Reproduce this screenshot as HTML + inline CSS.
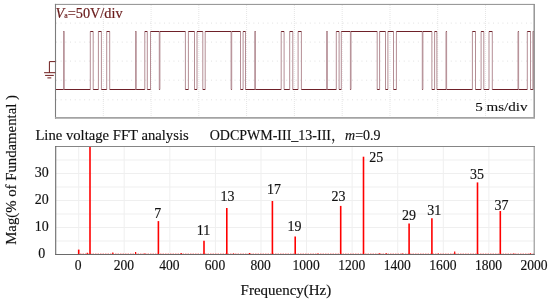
<!DOCTYPE html>
<html><head><meta charset="utf-8"><style>
html,body{margin:0;padding:0;background:#fff;width:550px;height:304px;overflow:hidden}
svg{display:block}
</style></head><body>
<svg width="550" height="304" viewBox="0 0 550 304"><line x1="103.3" y1="5" x2="103.3" y2="117" stroke="#d6d6d6" stroke-width="0.8" stroke-dasharray="0.8 1.2"/>
<line x1="151.1" y1="5" x2="151.1" y2="117" stroke="#d6d6d6" stroke-width="0.8" stroke-dasharray="0.8 1.2"/>
<line x1="198.8" y1="5" x2="198.8" y2="117" stroke="#d6d6d6" stroke-width="0.8" stroke-dasharray="0.8 1.2"/>
<line x1="246.6" y1="5" x2="246.6" y2="117" stroke="#d6d6d6" stroke-width="0.8" stroke-dasharray="0.8 1.2"/>
<line x1="294.4" y1="5" x2="294.4" y2="117" stroke="#d6d6d6" stroke-width="0.8" stroke-dasharray="0.8 1.2"/>
<line x1="342.2" y1="5" x2="342.2" y2="117" stroke="#d6d6d6" stroke-width="0.8" stroke-dasharray="0.8 1.2"/>
<line x1="390.0" y1="5" x2="390.0" y2="117" stroke="#d6d6d6" stroke-width="0.8" stroke-dasharray="0.8 1.2"/>
<line x1="437.7" y1="5" x2="437.7" y2="117" stroke="#d6d6d6" stroke-width="0.8" stroke-dasharray="0.8 1.2"/>
<line x1="485.5" y1="5" x2="485.5" y2="117" stroke="#d6d6d6" stroke-width="0.8" stroke-dasharray="0.8 1.2"/>
<line x1="56" y1="23.1" x2="533" y2="23.1" stroke="#d6d6d6" stroke-width="0.8" stroke-dasharray="0.9 3.8"/>
<line x1="56" y1="42.1" x2="533" y2="42.1" stroke="#d6d6d6" stroke-width="0.8" stroke-dasharray="0.9 3.8"/>
<line x1="56" y1="61.1" x2="533" y2="61.1" stroke="#d6d6d6" stroke-width="0.8" stroke-dasharray="0.9 3.8"/>
<line x1="56" y1="80.2" x2="533" y2="80.2" stroke="#d6d6d6" stroke-width="0.8" stroke-dasharray="0.9 3.8"/>
<line x1="56" y1="99.8" x2="533" y2="99.8" stroke="#d6d6d6" stroke-width="0.8" stroke-dasharray="0.9 3.8"/>
<path d="M63.6,89.5V31.5M64.2,31.5V89.5M90.3,89.5V31.5M93.2,31.5V89.5M98.4,89.5V31.5M101.4,31.5V89.5M106.7,89.5V31.5M109.7,31.5V89.5M135.6,89.5V31.5M136.2,31.5V89.5M144.8,89.5V31.5M147.3,31.5V89.5M150.5,89.5V31.5M159.3,31.5V89.5M159.9,89.5V31.5M185.4,31.5V89.5M188.4,89.5V31.5M194.5,31.5V89.5M197.0,89.5V31.5M202.8,31.5V89.5M205.2,89.5V31.5M231.1,31.5V89.5M231.7,89.5V31.5M240.5,31.5V89.5M243.1,89.5V31.5M245.5,31.5V89.5M254.8,89.5V31.5M255.4,31.5V89.5M281.2,89.5V31.5M284.1,31.5V89.5M289.7,89.5V31.5M292.8,31.5V89.5M298.1,89.5V31.5M301.4,31.5V89.5M326.7,89.5V31.5M327.3,31.5V89.5M336.3,89.5V31.5M339.1,31.5V89.5M341.3,89.5V31.5M350.4,31.5V89.5M351.0,89.5V31.5M377.2,31.5V89.5M379.6,89.5V31.5M385.5,31.5V89.5M387.9,89.5V31.5M393.5,31.5V89.5M396.4,89.5V31.5M422.3,31.5V89.5M422.9,89.5V31.5M431.9,31.5V89.5M434.6,89.5V31.5M436.9,31.5V89.5M446.0,89.5V31.5M446.6,31.5V89.5M472.4,89.5V31.5M475.5,31.5V89.5M481.1,89.5V31.5M483.8,31.5V89.5M489.0,89.5V31.5M492.3,31.5V89.5M518.0,89.5V31.5M518.6,31.5V89.5M527.3,89.5V31.5M530.5,31.5V89.5M532.9,89.5V31.5M533.6,31.5V89.5" fill="none" stroke="#b48e95" stroke-width="1"/>
<path d="M55.8,89.5H63.6M63.6,31.5H64.2M64.2,89.5H90.3M90.3,31.5H93.2M93.2,89.5H98.4M98.4,31.5H101.4M101.4,89.5H106.7M106.7,31.5H109.7M109.7,89.5H135.6M135.6,31.5H136.2M136.2,89.5H144.8M144.8,31.5H147.3M147.3,89.5H150.5M150.5,31.5H159.3M159.3,89.5H159.9M159.9,31.5H185.4M185.4,89.5H188.4M188.4,31.5H194.5M194.5,89.5H197.0M197.0,31.5H202.8M202.8,89.5H205.2M205.2,31.5H231.1M231.1,89.5H231.7M231.7,31.5H240.5M240.5,89.5H243.1M243.1,31.5H245.5M245.5,89.5H254.8M254.8,31.5H255.4M255.4,89.5H281.2M281.2,31.5H284.1M284.1,89.5H289.7M289.7,31.5H292.8M292.8,89.5H298.1M298.1,31.5H301.4M301.4,89.5H326.7M326.7,31.5H327.3M327.3,89.5H336.3M336.3,31.5H339.1M339.1,89.5H341.3M341.3,31.5H350.4M350.4,89.5H351.0M351.0,31.5H377.2M377.2,89.5H379.6M379.6,31.5H385.5M385.5,89.5H387.9M387.9,31.5H393.5M393.5,89.5H396.4M396.4,31.5H422.3M422.3,89.5H422.9M422.9,31.5H431.9M431.9,89.5H434.6M434.6,31.5H436.9M436.9,89.5H446.0M446.0,31.5H446.6M446.6,89.5H472.4M472.4,31.5H475.5M475.5,89.5H481.1M481.1,31.5H483.8M483.8,89.5H489.0M489.0,31.5H492.3M492.3,89.5H518.0M518.0,31.5H518.6M518.6,89.5H527.3M527.3,31.5H530.5M530.5,89.5H532.9M532.9,31.5H533.6M533.6,89.5H533.8" fill="none" stroke="#6e2028" stroke-width="1"/>
<line x1="54.9" y1="4.4" x2="534.6" y2="4.4" stroke="#8e8e8e" stroke-width="1"/>
<line x1="55.5" y1="3.9" x2="55.5" y2="118.8" stroke="#7c7c7c" stroke-width="1.1"/>
<line x1="534.2" y1="3.9" x2="534.2" y2="118.3" stroke="#8e8e8e" stroke-width="1.4"/>
<line x1="55" y1="117.9" x2="535" y2="117.9" stroke="#a3a3a3" stroke-width="1.9"/>
<path d="M55.3,61.6 H49.4 V72.7" fill="none" stroke="#6e1c1c" stroke-width="1"/>
<line x1="44.1" y1="72.7" x2="55.3" y2="72.7" stroke="#6e1c1c" stroke-width="1"/>
<line x1="45.1" y1="75.4" x2="53.8" y2="75.4" stroke="#6e1c1c" stroke-width="1"/>
<line x1="47.4" y1="77.9" x2="51.3" y2="77.9" stroke="#6e1c1c" stroke-width="1"/>
<text transform="translate(55.6,18.3) scale(1.02,1.0)" font-family="Liberation Serif, serif" font-size="14" fill="#6a1c1c" stroke="#6a1c1c" stroke-width="0.2"><tspan font-style="italic">V</tspan><tspan font-size="7.5">a</tspan>=50V/div</text>
<text transform="translate(527.4,111.0) scale(1.14,1.0)" font-family="Liberation Serif, serif" font-size="13.2" fill="#111" text-anchor="end" stroke="#111" stroke-width="0.12">5 ms/div</text>
<line x1="55.7" y1="241.0" x2="534.5" y2="241.0" stroke="#efefef" stroke-width="1"/>
<line x1="55.7" y1="227.5" x2="534.5" y2="227.5" stroke="#efefef" stroke-width="1"/>
<line x1="55.7" y1="214.0" x2="534.5" y2="214.0" stroke="#efefef" stroke-width="1"/>
<line x1="55.7" y1="200.5" x2="534.5" y2="200.5" stroke="#efefef" stroke-width="1"/>
<line x1="55.7" y1="187.0" x2="534.5" y2="187.0" stroke="#efefef" stroke-width="1"/>
<line x1="55.7" y1="173.5" x2="534.5" y2="173.5" stroke="#efefef" stroke-width="1"/>
<line x1="55.7" y1="160.0" x2="534.5" y2="160.0" stroke="#efefef" stroke-width="1"/>
<line x1="78.7" y1="146.5" x2="78.7" y2="254.5" stroke="#efefef" stroke-width="1"/>
<line x1="124.2" y1="146.5" x2="124.2" y2="254.5" stroke="#efefef" stroke-width="1"/>
<line x1="169.8" y1="146.5" x2="169.8" y2="254.5" stroke="#efefef" stroke-width="1"/>
<line x1="215.4" y1="146.5" x2="215.4" y2="254.5" stroke="#efefef" stroke-width="1"/>
<line x1="261.0" y1="146.5" x2="261.0" y2="254.5" stroke="#efefef" stroke-width="1"/>
<line x1="306.5" y1="146.5" x2="306.5" y2="254.5" stroke="#efefef" stroke-width="1"/>
<line x1="352.1" y1="146.5" x2="352.1" y2="254.5" stroke="#efefef" stroke-width="1"/>
<line x1="397.7" y1="146.5" x2="397.7" y2="254.5" stroke="#efefef" stroke-width="1"/>
<line x1="443.3" y1="146.5" x2="443.3" y2="254.5" stroke="#efefef" stroke-width="1"/>
<line x1="488.9" y1="146.5" x2="488.9" y2="254.5" stroke="#efefef" stroke-width="1"/>
<line x1="534.4" y1="146.5" x2="534.4" y2="254.5" stroke="#efefef" stroke-width="1"/>
<line x1="80" y1="253.7" x2="534.5" y2="253.7" stroke="#ff0000" stroke-width="0.8" stroke-opacity="0.45" stroke-dasharray="1.5 1"/>
<line x1="112.8" y1="254.5" x2="112.8" y2="252.4" stroke="#ff0000" stroke-width="1.2"/>
<line x1="135.6" y1="254.5" x2="135.6" y2="252.0" stroke="#ff0000" stroke-width="1.2"/>
<line x1="87.3" y1="254.5" x2="87.3" y2="252.8" stroke="#ff0000" stroke-width="1.2"/>
<line x1="144.7" y1="254.5" x2="144.7" y2="253.4" stroke="#ff0000" stroke-width="1.2"/>
<line x1="181.2" y1="254.5" x2="181.2" y2="253.0" stroke="#ff0000" stroke-width="1.2"/>
<line x1="233.6" y1="254.5" x2="233.6" y2="253.6" stroke="#ff0000" stroke-width="1.2"/>
<line x1="249.6" y1="254.5" x2="249.6" y2="253.0" stroke="#ff0000" stroke-width="1.2"/>
<line x1="317.9" y1="254.5" x2="317.9" y2="253.4" stroke="#ff0000" stroke-width="1.2"/>
<line x1="379.5" y1="254.5" x2="379.5" y2="253.3" stroke="#ff0000" stroke-width="1.2"/>
<line x1="386.3" y1="254.5" x2="386.3" y2="253.3" stroke="#ff0000" stroke-width="1.2"/>
<line x1="402.3" y1="254.5" x2="402.3" y2="253.5" stroke="#ff0000" stroke-width="1.2"/>
<line x1="438.3" y1="254.5" x2="438.3" y2="253.5" stroke="#ff0000" stroke-width="1.2"/>
<line x1="454.7" y1="254.5" x2="454.7" y2="251.6" stroke="#ff0000" stroke-width="1.2"/>
<line x1="513.9" y1="254.5" x2="513.9" y2="253.6" stroke="#ff0000" stroke-width="1.2"/>
<line x1="530.3" y1="254.5" x2="530.3" y2="253.3" stroke="#ff0000" stroke-width="1.2"/>
<line x1="78.7" y1="254.5" x2="78.7" y2="249.6" stroke="#ff0000" stroke-width="1.6"/>
<line x1="90.0" y1="254.5" x2="90.0" y2="146.5" stroke="#ff0000" stroke-width="1.6"/>
<line x1="158.4" y1="254.5" x2="158.4" y2="221.1" stroke="#ff0000" stroke-width="1.6"/>
<line x1="204.0" y1="254.5" x2="204.0" y2="240.8" stroke="#ff0000" stroke-width="1.6"/>
<line x1="226.8" y1="254.5" x2="226.8" y2="207.9" stroke="#ff0000" stroke-width="1.6"/>
<line x1="272.4" y1="254.5" x2="272.4" y2="201.0" stroke="#ff0000" stroke-width="1.6"/>
<line x1="295.2" y1="254.5" x2="295.2" y2="236.5" stroke="#ff0000" stroke-width="1.6"/>
<line x1="340.7" y1="254.5" x2="340.7" y2="205.9" stroke="#ff0000" stroke-width="1.6"/>
<line x1="363.5" y1="254.5" x2="363.5" y2="156.7" stroke="#ff0000" stroke-width="1.6"/>
<line x1="409.1" y1="254.5" x2="409.1" y2="223.4" stroke="#ff0000" stroke-width="1.6"/>
<line x1="431.9" y1="254.5" x2="431.9" y2="218.3" stroke="#ff0000" stroke-width="1.6"/>
<line x1="477.5" y1="254.5" x2="477.5" y2="182.4" stroke="#ff0000" stroke-width="1.6"/>
<line x1="500.3" y1="254.5" x2="500.3" y2="211.0" stroke="#ff0000" stroke-width="1.6"/>
<line x1="55.2" y1="146.5" x2="535.0" y2="146.5" stroke="#858585" stroke-width="1"/>
<line x1="534.2" y1="146.5" x2="534.2" y2="254.5" stroke="#969696" stroke-width="1.1"/>
<line x1="55.7" y1="146.0" x2="55.7" y2="255.0" stroke="#6a6a6a" stroke-width="1.1"/>
<line x1="55.2" y1="254.5" x2="534.8" y2="254.5" stroke="#6a6a6a" stroke-width="1.1"/>
<text transform="translate(157.8,218.2) scale(1.0,1.1)" font-family="Liberation Serif, serif" font-size="14.0" fill="#111" text-anchor="middle" stroke="#111" stroke-width="0.15">7</text>
<text transform="translate(203.6,235.0) scale(1.0,1.1)" font-family="Liberation Serif, serif" font-size="14.0" fill="#111" text-anchor="middle" stroke="#111" stroke-width="0.15">11</text>
<text transform="translate(227.5,200.6) scale(1.0,1.1)" font-family="Liberation Serif, serif" font-size="14.0" fill="#111" text-anchor="middle" stroke="#111" stroke-width="0.15">13</text>
<text transform="translate(273.9,193.79999999999998) scale(1.0,1.1)" font-family="Liberation Serif, serif" font-size="14.0" fill="#111" text-anchor="middle" stroke="#111" stroke-width="0.15">17</text>
<text transform="translate(294.6,231.0) scale(1.0,1.1)" font-family="Liberation Serif, serif" font-size="14.0" fill="#111" text-anchor="middle" stroke="#111" stroke-width="0.15">19</text>
<text transform="translate(338.6,200.5) scale(1.0,1.1)" font-family="Liberation Serif, serif" font-size="14.0" fill="#111" text-anchor="middle" stroke="#111" stroke-width="0.15">23</text>
<text transform="translate(376.3,162.2) scale(1.0,1.1)" font-family="Liberation Serif, serif" font-size="14.0" fill="#111" text-anchor="middle" stroke="#111" stroke-width="0.15">25</text>
<text transform="translate(409.1,219.6) scale(1.0,1.1)" font-family="Liberation Serif, serif" font-size="14.0" fill="#111" text-anchor="middle" stroke="#111" stroke-width="0.15">29</text>
<text transform="translate(434.3,214.6) scale(1.0,1.1)" font-family="Liberation Serif, serif" font-size="14.0" fill="#111" text-anchor="middle" stroke="#111" stroke-width="0.15">31</text>
<text transform="translate(477.1,179.4) scale(1.0,1.1)" font-family="Liberation Serif, serif" font-size="14.0" fill="#111" text-anchor="middle" stroke="#111" stroke-width="0.15">35</text>
<text transform="translate(501.5,209.9) scale(1.0,1.1)" font-family="Liberation Serif, serif" font-size="14.0" fill="#111" text-anchor="middle" stroke="#111" stroke-width="0.15">37</text>
<text transform="translate(78.2,270.4) scale(0.97,1.1)" font-family="Liberation Serif, serif" font-size="14.0" fill="#111" text-anchor="middle" stroke="#111" stroke-width="0.15">0</text>
<text transform="translate(123.8,270.4) scale(0.97,1.1)" font-family="Liberation Serif, serif" font-size="14.0" fill="#111" text-anchor="middle" stroke="#111" stroke-width="0.15">200</text>
<text transform="translate(169.4,270.4) scale(0.97,1.1)" font-family="Liberation Serif, serif" font-size="14.0" fill="#111" text-anchor="middle" stroke="#111" stroke-width="0.15">400</text>
<text transform="translate(215.0,270.4) scale(0.97,1.1)" font-family="Liberation Serif, serif" font-size="14.0" fill="#111" text-anchor="middle" stroke="#111" stroke-width="0.15">600</text>
<text transform="translate(260.6,270.4) scale(0.97,1.1)" font-family="Liberation Serif, serif" font-size="14.0" fill="#111" text-anchor="middle" stroke="#111" stroke-width="0.15">800</text>
<text transform="translate(306.1,270.4) scale(0.97,1.1)" font-family="Liberation Serif, serif" font-size="14.0" fill="#111" text-anchor="middle" stroke="#111" stroke-width="0.15">1000</text>
<text transform="translate(351.7,270.4) scale(0.97,1.1)" font-family="Liberation Serif, serif" font-size="14.0" fill="#111" text-anchor="middle" stroke="#111" stroke-width="0.15">1200</text>
<text transform="translate(397.3,270.4) scale(0.97,1.1)" font-family="Liberation Serif, serif" font-size="14.0" fill="#111" text-anchor="middle" stroke="#111" stroke-width="0.15">1400</text>
<text transform="translate(442.9,270.4) scale(0.97,1.1)" font-family="Liberation Serif, serif" font-size="14.0" fill="#111" text-anchor="middle" stroke="#111" stroke-width="0.15">1600</text>
<text transform="translate(488.5,270.4) scale(0.97,1.1)" font-family="Liberation Serif, serif" font-size="14.0" fill="#111" text-anchor="middle" stroke="#111" stroke-width="0.15">1800</text>
<text transform="translate(534.0,270.4) scale(0.97,1.1)" font-family="Liberation Serif, serif" font-size="14.0" fill="#111" text-anchor="middle" stroke="#111" stroke-width="0.15">2000</text>
<text transform="translate(41.8,258.3) scale(1.0,1.1)" font-family="Liberation Serif, serif" font-size="14.0" fill="#111" text-anchor="middle" stroke="#111" stroke-width="0.15">0</text>
<text transform="translate(41.8,231.3) scale(1.0,1.1)" font-family="Liberation Serif, serif" font-size="14.0" fill="#111" text-anchor="middle" stroke="#111" stroke-width="0.15">10</text>
<text transform="translate(41.8,204.3) scale(1.0,1.1)" font-family="Liberation Serif, serif" font-size="14.0" fill="#111" text-anchor="middle" stroke="#111" stroke-width="0.15">20</text>
<text transform="translate(41.8,177.3) scale(1.0,1.1)" font-family="Liberation Serif, serif" font-size="14.0" fill="#111" text-anchor="middle" stroke="#111" stroke-width="0.15">30</text>
<text transform="translate(35.4,139.9) scale(1.012,1.0)" font-family="Liberation Serif, serif" font-size="14.5" fill="#111" stroke="#111" stroke-width="0.15">Line voltage FFT analysis</text>
<text transform="translate(209.7,140.4)" font-family="Liberation Serif, 'Noto Serif CJK SC', serif" font-size="14" fill="#111" stroke="#111" stroke-width="0.15">ODCPWM-III_13-III，<tspan font-style="italic">m</tspan>=0.9</text>
<text transform="translate(240.6,295.3) scale(1.102,1.0)" font-family="Liberation Serif, serif" font-size="13.6" fill="#111" stroke="#111" stroke-width="0.15">Frequency(Hz)</text>
<text transform="translate(15.6,244.8) rotate(-90) scale(1.02,1.0)" font-family="Liberation Serif, serif" font-size="14.5" fill="#111" stroke="#111" stroke-width="0.15">Mag(% of Fundamental )</text></svg>
</body></html>
